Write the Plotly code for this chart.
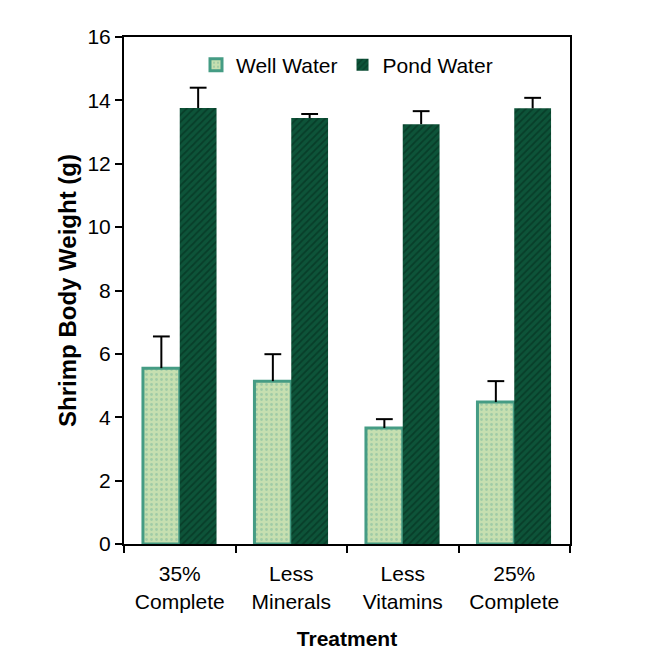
import plotly.graph_objects as go

categories = ["35%<br>Complete", "Less<br>Minerals", "Less<br>Vitamins", "25%<br>Complete"]
well_values = [5.55, 5.14, 3.66, 4.48]
well_err = [1.0, 0.85, 0.28, 0.66]
pond_values = [13.76, 13.44, 13.25, 13.75]
pond_err = [0.64, 0.13, 0.41, 0.33]
y_ticks = [0, 2, 4, 6, 8, 10, 12, 14, 16]

BARGAP = 0.34
half = (1 - BARGAP) / 4  # centre offset of each bar within its group

fig = go.Figure()
fig.add_trace(go.Bar(
    name="Well Water", x=categories, y=well_values,
    marker=dict(color="#c6dfb0", line=dict(color="#459c84", width=3),
                pattern=dict(shape=".", fgcolor="#7bb89c", size=5, solidity=0.25)),
))
fig.add_trace(go.Bar(
    name="Pond Water", x=categories, y=pond_values,
    marker=dict(color="#0d5439", line=dict(color="#0d5439", width=0),
                pattern=dict(shape="/", fgcolor="#03281a", size=5, solidity=0.35)),
))

# upper-only error bars (stem + cap), placed over each bar on a linear overlay axis
for k, (vals, errs) in enumerate([(well_values, well_err), (pond_values, pond_err)]):
    xs = [i + (-half if k == 0 else half) for i in range(len(vals))]
    fig.add_trace(go.Scatter(
        x=xs, y=[v + e for v, e in zip(vals, errs)], xaxis="x2", mode="markers",
        marker=dict(symbol="line-ew", size=12, line=dict(color="black", width=2)),
        error_y=dict(type="data", array=[0]*len(vals), arrayminus=errs, symmetric=False,
                     color="black", thickness=2, width=0),
        showlegend=False, hoverinfo="skip",
    ))

font = "Liberation Sans, Arial, sans-serif"
fig.update_layout(
    width=660, height=664,
    margin=dict(l=124, r=90, t=37, b=120),
    paper_bgcolor="white", plot_bgcolor="white",
    barmode="group", bargap=BARGAP, bargroupgap=0,
    font=dict(family=font, size=21, color="black"),
    showlegend=True,
    legend=dict(orientation="h", x=0.5, xanchor="center", y=0.985, yanchor="top",
                font=dict(size=21), bgcolor="rgba(0,0,0,0)"),
    xaxis=dict(
        showline=True, linecolor="black", linewidth=2, mirror=True,
        ticks="", showgrid=False, ticklabelstandoff=10,
        tickfont=dict(size=21),
        title=dict(text="<b>Treatment</b>", font=dict(size=21), standoff=20),
    ),
    xaxis2=dict(overlaying="x", range=[-0.5, 3.5], tickvals=[-0.5, 0.5, 1.5, 2.5, 3.5],
                showticklabels=False, ticks="outside", ticklen=8, tickwidth=2,
                tickcolor="black", side="bottom", showgrid=False, showline=False,
                zeroline=False, anchor="y"),
    yaxis=dict(
        range=[0, 16], tickvals=y_ticks,
        showline=True, linecolor="black", linewidth=2, mirror=True,
        ticks="outside", ticklen=7, tickwidth=2, tickcolor="black",
        showgrid=False, zeroline=False,
        tickfont=dict(size=21),
        title=dict(text="<b>Shrimp Body Weight (g)</b>", font=dict(size=24), standoff=4),
    ),
)
fig.write_html("out.html")
